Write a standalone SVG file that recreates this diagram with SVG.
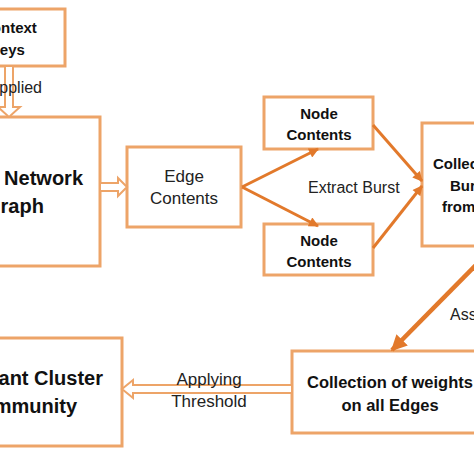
<svg xmlns="http://www.w3.org/2000/svg" width="474" height="474" viewBox="0 0 474 474">
<defs>
<style>
.box{fill:#fff;stroke:#EDA468;stroke-width:3}
.blk{fill:#fff;stroke:#EDA468;stroke-width:2;stroke-linejoin:miter}
.arr{fill:none;stroke:#E2792B;stroke-width:3}
.thick{fill:none;stroke:#E2792B;stroke-width:4.5}
.b{font-family:"Liberation Sans",Arial,sans-serif;font-weight:bold;fill:#111}
.n{font-family:"Liberation Sans",Arial,sans-serif;fill:#222}
</style>
<marker id="ah" viewBox="0 0 10 10" refX="9" refY="5" markerWidth="11" markerHeight="10" markerUnits="userSpaceOnUse" orient="auto">
<path d="M0,0 L10,5 L0,10 Z" fill="#E2792B"/>
</marker>
<marker id="ahb" viewBox="0 0 10 10" refX="9" refY="5" markerWidth="16" markerHeight="16" markerUnits="userSpaceOnUse" orient="auto">
<path d="M0,0 L10,5 L0,10 Z" fill="#E2792B"/>
</marker>
</defs>
<rect width="474" height="474" fill="#fff"/>

<g id="context-keys">
<rect class="box" x="-60" y="9" width="125" height="57"/>
<text class="b" x="-19" y="33" font-size="15">Context</text>
<text class="b" x="-11" y="55" font-size="15">Keys</text>
</g>

<g id="network-graph">
<rect class="box" x="-60" y="117" width="160" height="149"/>
<text class="b" x="83" y="185" font-size="20" text-anchor="end">Network</text>
<text class="b" x="-15" y="213" font-size="20">Graph</text>
</g>

<g id="edge-contents">
<rect class="box" x="127" y="147" width="114" height="80"/>
<text class="n" x="184" y="182" font-size="17" text-anchor="middle">Edge</text>
<text class="n" x="184" y="204" font-size="17" text-anchor="middle">Contents</text>
</g>

<g id="node-contents-1">
<rect class="box" x="264" y="97" width="109" height="52"/>
<text class="b" x="319" y="119" font-size="15" text-anchor="middle">Node</text>
<text class="b" x="319" y="140" font-size="15" text-anchor="middle">Contents</text>
</g>

<g id="node-contents-2">
<rect class="box" x="264" y="224" width="109" height="51"/>
<text class="b" x="319" y="246" font-size="15" text-anchor="middle">Node</text>
<text class="b" x="319" y="267" font-size="15" text-anchor="middle">Contents</text>
</g>

<g id="collection-bursts">
<rect class="box" x="422" y="123" width="110" height="123"/>
<text class="b" x="433" y="169" font-size="15">Collection of</text>
<text class="b" x="450" y="191" font-size="15">Bursts</text>
<text class="b" x="442" y="212" font-size="15">from</text>
</g>

<g id="collection-weights">
<rect class="box" x="292" y="351" width="230" height="82"/>
<text class="b" x="390" y="388" font-size="16.5" text-anchor="middle">Collection of weights</text>
<text class="b" x="390" y="411" font-size="16.5" text-anchor="middle">on all Edges</text>
</g>

<g id="cluster-community">
<rect class="box" x="-60" y="338" width="182" height="108"/>
<text class="b" x="103" y="385" font-size="20" text-anchor="end">ant Cluster</text>
<text class="b" x="77" y="413" font-size="20" text-anchor="end">Community</text>
</g>

<g id="connectors">
<polygon class="blk" points="5,66 13,66 13,107 20,107 9,117 -2,107 5,107"/>
<text class="n" x="42" y="93" font-size="16" text-anchor="end">Applied</text>
<polygon class="blk" points="100,183 118,183 118,178 127,187 118,196 118,191 100,191"/>
<line class="arr" x1="242" y1="187" x2="318" y2="149" marker-end="url(#ah)"/>
<line class="arr" x1="242" y1="187" x2="318" y2="226" marker-end="url(#ah)"/>
<text class="n" x="308" y="193" font-size="16" fill="#333">Extract Burst</text>
<line class="arr" x1="373" y1="125" x2="422" y2="181" marker-end="url(#ah)"/>
<line class="arr" x1="373" y1="248" x2="422" y2="186" marker-end="url(#ah)"/>
<line class="thick" x1="480" y1="261" x2="392" y2="350" marker-end="url(#ahb)"/>
<text class="n" x="450" y="320" font-size="16">Ass</text>
<polygon class="blk" points="292,385 133,385 133,380 122,389 133,398 133,393 292,393"/>
<text class="n" x="209" y="385" font-size="17" text-anchor="middle">Applying</text>
<text class="n" x="209" y="407" font-size="17" text-anchor="middle">Threshold</text>
</g>
</svg>
